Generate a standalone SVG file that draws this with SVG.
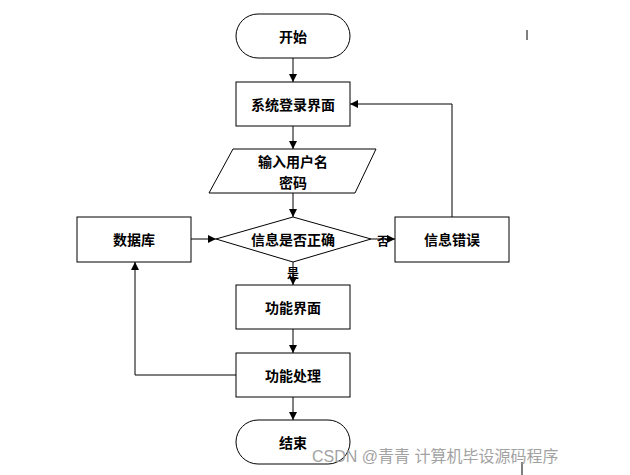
<svg xmlns="http://www.w3.org/2000/svg" width="630" height="475" viewBox="0 0 630 475">
<style>
.s{fill:#fff;stroke:#000;stroke-width:1}
.t{font-family:"Noto Sans CJK SC",sans-serif;font-size:14px;font-weight:bold;text-anchor:middle;dominant-baseline:central}
.c{fill:none;stroke:#000;stroke-width:1;marker-end:url(#a)}
</style>
<defs><marker id="a" viewBox="0 0 10 10" refX="10" refY="5" markerWidth="8" markerHeight="8" orient="auto" markerUnits="userSpaceOnUse"><path d="M0,0L10,5L0,10z"/></marker></defs>
<rect width="630" height="475" fill="#fff"/>
<g id="connectors">
<path class="c" d="M293,58V82"/>
<path class="c" d="M293,126V149"/>
<path class="c" d="M293,193V217"/>
<path class="c" d="M371,239H395"/>
<path class="c" d="M452,217V104H350"/>
<path class="c" d="M191,239H216"/>
<path class="c" d="M293,262V285"/>
<path class="c" d="M293,329V353"/>
<path class="c" d="M293,397V420"/>
<path class="c" d="M236,375H135V262"/>
<text class="t" x="383" y="240" font-size="12" style="font-size:12px">否</text>
<text class="t" x="293" y="272" style="font-size:12px">是</text>
</g>
<g id="start"><rect class="s" x="236" y="14" width="114" height="44" rx="22"/><text class="t" x="293" y="36">开始</text></g>
<g id="login"><rect class="s" x="236" y="82" width="114" height="44"/><text class="t" x="293" y="104">系统登录界面</text></g>
<g id="input"><path class="s" d="M233,149H376L355,193H209Z"/><text class="t" x="293" y="161">输入用户名</text><text class="t" x="293" y="182">密码</text></g>
<g id="check"><path class="s" d="M293,217L371,239L293,262L216,239Z"/><text class="t" x="293" y="239">信息是否正确</text></g>
<g id="err"><rect class="s" x="395" y="217" width="114" height="45"/><text class="t" x="452" y="239">信息错误</text></g>
<g id="db"><rect class="s" x="77" y="217" width="114" height="45"/><text class="t" x="134" y="239">数据库</text></g>
<g id="func"><rect class="s" x="236" y="285" width="114" height="44"/><text class="t" x="293" y="307">功能界面</text></g>
<g id="proc"><rect class="s" x="236" y="353" width="114" height="44"/><text class="t" x="293" y="375">功能处理</text></g>
<g id="end"><rect class="s" x="236" y="420" width="114" height="44" rx="22"/><text class="t" x="293" y="442">结束</text></g>
<path d="M527,30V40M522,462V475" stroke="#000" stroke-width="1"/>
<text x="312" y="462" font-family="Liberation Sans,Noto Sans CJK SC,sans-serif" font-size="16" fill="#999" opacity="0.9">CSDN @青青  计算机毕设源码程序</text>
</svg>
